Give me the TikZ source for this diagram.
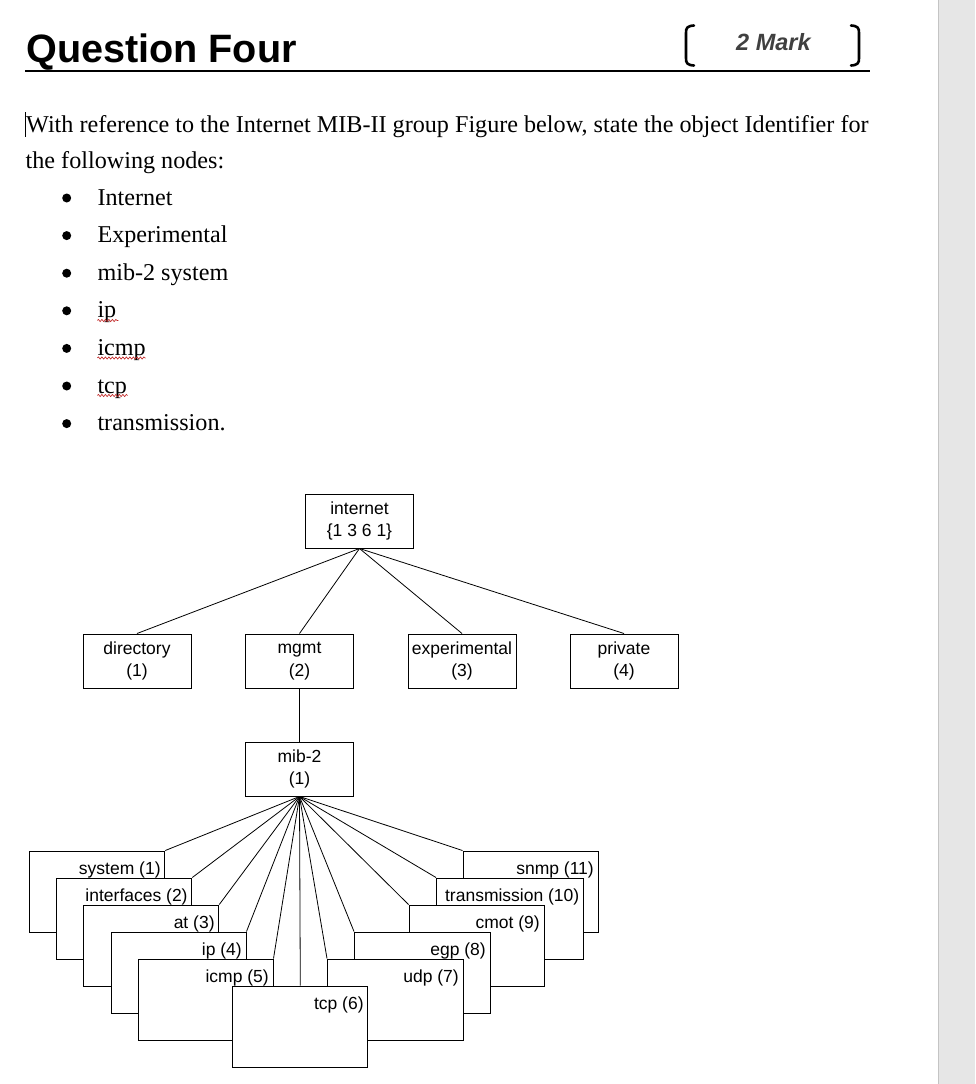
\documentclass[tikz,border=0pt]{standalone}
\usepackage{fontspec}
\setmainfont{Liberation Serif}
\newfontfamily\arial{Liberation Sans}
\usetikzlibrary{decorations.pathmorphing}
\definecolor{sidebar}{HTML}{E6E6E6}
\definecolor{sideedge}{HTML}{C4C4C4}
\definecolor{markgray}{HTML}{404040}
\definecolor{spellred}{HTML}{C02020}
\begin{document}
\begin{tikzpicture}[x=1pt,y=-1pt,
  treebox/.style={draw, line width=1pt, fill=white, minimum width=108pt, minimum height=54pt, inner sep=0pt, align=center, font=\arial\fontsize{17.5}{22.5}\selectfont},
  oidbox/.style={draw, line width=1pt, fill=white, inner sep=0pt, minimum height=81pt, anchor=north west},
  oidlbl/.style={anchor=base east, inner sep=0pt, font=\arial\fontsize{17.5}{21}\selectfont},
  edge/.style={line width=0.8pt},
  bodytext/.style={anchor=base west, inner sep=0pt, font=\fontsize{24.15}{28}\selectfont},
  bulletdot/.style={fill=black, circle, inner sep=0pt, minimum size=9pt},
  squiggle/.style={spellred, line width=0.6pt, decorate, decoration={snake, amplitude=1.1pt, segment length=3.5pt}},
  bracket/.style={line width=2.6pt, line cap=round},
]
\useasboundingbox (0,0) rectangle (975,1084);
\fill[white] (0,0) rectangle (975,1084);
% sidebar
\fill[sidebar] (938,0) rectangle (975,1084);
\draw[sideedge, line width=1.5pt] (938.5,0) -- (938.5,1084);

% header
\node[anchor=base west, inner sep=0pt, font=\arial\bfseries\fontsize{39.6}{41}\selectfont] (title) at (26,62) {Question Four};
\draw[line width=2.5pt] (25,71) -- (870,71);
\draw[bracket] (694,25.5) .. controls (687,26) and (686,28) .. (686,33) -- (686,58) .. controls (686,63) and (687,65) .. (694,65.5);
\draw[bracket] (851,25.5) .. controls (858,26) and (859,28) .. (859,33) -- (859,58) .. controls (859,63) and (858,65) .. (851,65.5);
\node[anchor=base west, inner sep=0pt, text=markgray, font=\arial\bfseries\itshape\fontsize{23.5}{25}\selectfont] (mark) at (736,50) {2 Mark};

% body text
\draw[line width=0.8pt] (25.5,112) -- (25.5,137);
\node[bodytext] (line1) at (26,132.3) {With reference to the Internet MIB-II group Figure below, state the object Identifier for};
\node[bodytext] (line2) at (25.5,168.3) {the following nodes:};

\foreach \t/\yy/\nm in {Internet/205/b1, Experimental/242.6/b2, mib-2 system/280.2/b3, ip/317.8/b4, icmp/355.4/b5, tcp/393/b6, transmission./430.6/b7}{
  \node[bulletdot] (\nm d) at (66.7,\yy-7) {};
  \node[bodytext] (\nm) at (97.3,\yy) {\t};
}
\draw[squiggle] (97.3,320.5) -- (118.3,320.5);
\draw[squiggle] (97.3,358) -- (145.5,358);
\draw[squiggle] (97.3,395.5) -- (127.5,395.5);

% upper tree
\node[treebox] (inet) at (359.5,521) {internet\\\{1 3 6 1\}};
\node[treebox] (dir) at (137,661) {directory\\(1)};
\node[treebox] (mgmt) at (299.5,661) {mgmt\\(2)};
\node[treebox] (exp) at (462,661) {experimental\\(3)};
\node[treebox] (priv) at (624,661) {private\\(4)};
\node[treebox] (mib) at (299.5,769) {mib-2\\(1)};
\draw[edge] (inet.south) -- (dir.north);
\draw[edge] (inet.south) -- (mgmt.north);
\draw[edge] (inet.south) -- (exp.north);
\draw[edge] (inet.south) -- (priv.north);
\draw[edge] (mgmt.south) -- (mib.north);

% lower stacked boxes
\node[oidbox, minimum width=135pt] (sys) at (29.3,850.5) {};
\node[oidlbl] (sysl) at ([xshift=-4.5pt,yshift=-24pt]sys.north east) {system (1)};
\node[oidbox, minimum width=135pt] (ifc) at (56.3,877.5) {};
\node[oidlbl] (ifcl) at ([xshift=-4.5pt,yshift=-24pt]ifc.north east) {interfaces (2)};
\node[oidbox, minimum width=135pt] (at) at (83.3,904.5) {};
\node[oidlbl] (atl) at ([xshift=-4.5pt,yshift=-24pt]at.north east) {at (3)};
\node[oidbox, minimum width=135pt] (ip) at (110.5,931.5) {};
\node[oidlbl] (ipl) at ([xshift=-4.5pt,yshift=-24pt]ip.north east) {ip (4)};
\node[oidbox, minimum width=135pt] (icmp) at (137.5,958.5) {};
\node[oidlbl] (icmpl) at ([xshift=-4.5pt,yshift=-24pt]icmp.north east) {icmp (5)};

\node[oidbox, minimum width=135pt] (snmp) at (462.5,850.5) {};
\node[oidlbl] (snmpl) at ([xshift=-4.5pt,yshift=-24pt]snmp.north east) {snmp (11)};
\node[oidbox, minimum width=147pt] (trans) at (436,877.5) {};
\node[oidlbl] (transl) at ([xshift=-4.5pt,yshift=-24pt]trans.north east) {transmission (10)};
\node[oidbox, minimum width=135pt] (cmot) at (408.5,904.5) {};
\node[oidlbl] (cmotl) at ([xshift=-4.5pt,yshift=-24pt]cmot.north east) {cmot (9)};
\node[oidbox, minimum width=135.5pt] (egp) at (354,931.5) {};
\node[oidlbl] (egpl) at ([xshift=-4.5pt,yshift=-24pt]egp.north east) {egp (8)};
\node[oidbox, minimum width=135.5pt] (udp) at (327,958.5) {};
\node[oidlbl] (udpl) at ([xshift=-4.5pt,yshift=-24pt]udp.north east) {udp (7)};
\node[oidbox, minimum width=135pt] (tcp) at (232.3,985.5) {};
\node[oidlbl] (tcpl) at ([xshift=-4.5pt,yshift=-24pt]tcp.north east) {tcp (6)};

% fan from mib-2
\foreach \n in {sys, ifc, at, ip, icmp}{
  \draw[edge] (mib.south) -- (\n.north east);
}
\draw[edge] (mib.south) -- (tcp.north);
\foreach \n in {udp, egp, cmot, trans, snmp}{
  \draw[edge] (mib.south) -- (\n.north west);
}
\end{tikzpicture}
\end{document}
